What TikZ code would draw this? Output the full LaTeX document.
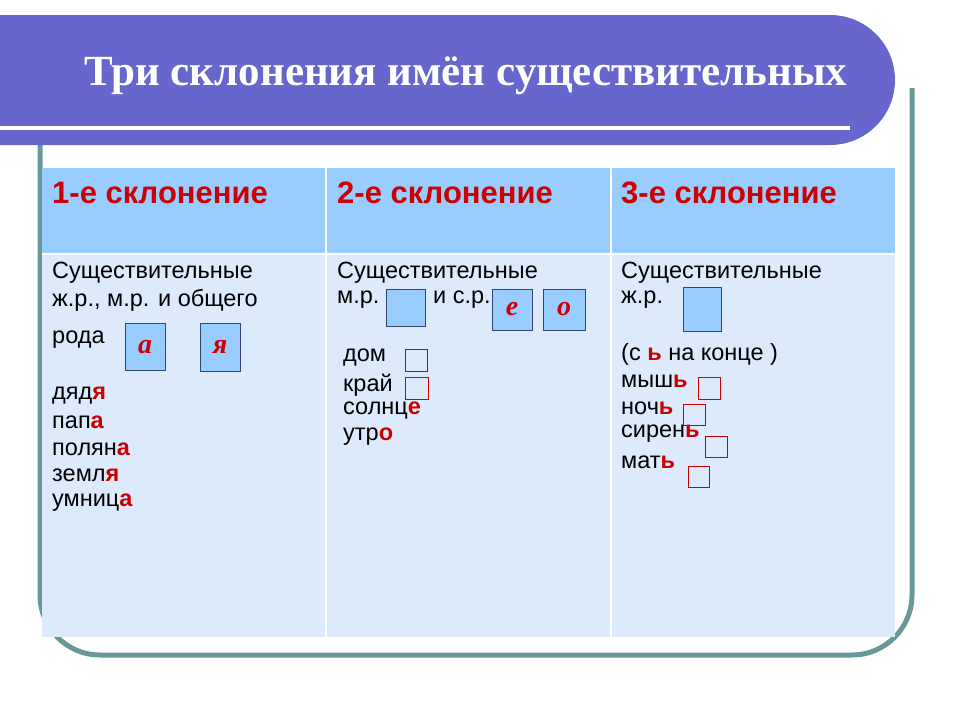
\documentclass[tikz,border=0pt]{standalone}
\usepackage{fontspec}
\setmainfont{Liberation Sans}
\newfontfamily\serifb{Liberation Serif}
\definecolor{banner}{RGB}{102,102,204}
\definecolor{frame}{RGB}{104,152,152}
\definecolor{hdr}{RGB}{153,204,255}
\definecolor{body}{RGB}{220,234,252}
\definecolor{redt}{RGB}{204,0,0}
\definecolor{boxb}{RGB}{50,70,110}
\tikzset{
  txt/.style={anchor=west,inner sep=0pt,font=\fontsize{23.5}{25}\selectfont},
  hd/.style={anchor=west,inner sep=0pt,font=\fontsize{31}{33}\selectfont\bfseries,text=redt},
  bluebox/.style={draw=boxb,fill=hdr,line width=0.8pt},
  redbox/.style={draw=redt,line width=0.8pt},
  ltr/.style={font=\serifb\fontsize{28}{30}\selectfont\bfseries\itshape,text=redt}
}
\newcommand{\R}[1]{\textcolor{redt}{\textbf{#1}}}
\begin{document}
\begin{tikzpicture}[x=1pt,y=-1pt]
\useasboundingbox (0,0) rectangle (960,720);
\fill[white] (0,0) rectangle (960,720);
% outer frame
\draw[frame,line width=5pt,rounded corners=60pt] (40,88) -- (40,655) -- (912,655) -- (912,88);
% banner
\begin{scope}
\clip (0,0) rectangle (960,720);
\fill[banner,rounded corners=65pt] (-100,15) rectangle (895,145);
\end{scope}
\draw[white,line width=4pt] (0,128) -- (850,128);
\node[anchor=center,text=white,font=\serifb\fontsize{43}{46}\selectfont\bfseries] (title) at (466,76) {Три склонения имён существительных};
% table
\fill[hdr] (42,168) rectangle (895,253);
\fill[body] (42,255) rectangle (895,637);
\draw[white,line width=1.5pt] (326,168) -- (326,637);
\draw[white,line width=1.5pt] (611,168) -- (611,637);
\draw[white,line width=1.5pt] (42,254) -- (895,254);
\node[hd] (h1) at (52,193) {1-е склонение};
\node[hd] (h2) at (337,193) {2-е склонение};
\node[hd] (h3) at (621,193) {3-е склонение};
% col 1
\node[txt] (c1a) at (52,273) {Существительные};
\node[txt] (c1b) at (52,300) {ж.р., м.р. и общего};
\node[txt] (c1c) at (52,340) {рода};
\node[bluebox,minimum width=40pt,minimum height=47pt,inner sep=0pt] (ba) at (145,347) {};
\node[ltr] at (ba) {а};
\node[bluebox,minimum width=40pt,minimum height=48pt,inner sep=0pt] (bya) at (220,347) {};
\node[ltr] at (bya) {я};
\node[txt] (w1) at (52,396) {дяд\R{я}};
\node[txt] (w2) at (52,422) {пап\R{а}};
\node[txt] (w3) at (52,449) {полян\R{а}};
\node[txt] (w4) at (52,475) {земл\R{я}};
\node[txt] (w5) at (52,503) {умниц\R{а}};
% col 2
\node[txt] (c2a) at (337,273) {Существительные};
\node[txt] (c2b) at (337,300) {м.р.};
\node[bluebox,minimum width=39pt,minimum height=37pt,inner sep=0pt] (bm) at (405.5,307.5) {};
\node[txt] (c2c) at (433,300) {и с.р.};
\node[bluebox,minimum width=40pt,minimum height=41pt,inner sep=0pt] (be) at (512,309.5) {};
\node[ltr] at (be) {е};
\node[bluebox,minimum width=42pt,minimum height=41pt,inner sep=0pt] (bo) at (564,309.5) {};
\node[ltr] at (bo) {о};
\node[txt] (d1) at (343,358) {дом};
\node[redbox,minimum width=22pt,minimum height=22pt,inner sep=0pt] (r1) at (416,360) {};
\node[txt] (d2) at (343,385) {край};
\node[redbox,minimum width=23pt,minimum height=22pt,inner sep=0pt] (r2) at (416.5,388) {};
\node[txt] (d3) at (343,411) {солнц\R{е}};
\node[txt] (d4) at (343,437) {утр\R{о}};
% col 3
\node[txt] (c3a) at (621,273) {Существительные};
\node[txt] (c3b) at (621,300) {ж.р.};
\node[bluebox,minimum width=38pt,minimum height=44pt,inner sep=0pt] (bz) at (702,309) {};
\node[txt] (c3c) at (621,354) {(с \R{ь} на конце )};
\node[txt] (m1) at (621,381) {мыш\R{ь}};
\node[redbox,minimum width=22pt,minimum height=22pt,inner sep=0pt] (q1) at (709,388) {};
\node[txt] (m2) at (621,408) {ноч\R{ь}};
\node[redbox,minimum width=22pt,minimum height=21pt,inner sep=0pt] (q2) at (694,414.5) {};
\node[txt] (m3) at (621,434) {сирен\R{ь}};
\node[redbox,minimum width=22pt,minimum height=21pt,inner sep=0pt] (q3) at (716,446.5) {};
\node[txt] (m4) at (621,462) {мат\R{ь}};
\node[redbox,minimum width=21pt,minimum height=21pt,inner sep=0pt] (q4) at (698.5,476.5) {};
\end{tikzpicture}
\end{document}
